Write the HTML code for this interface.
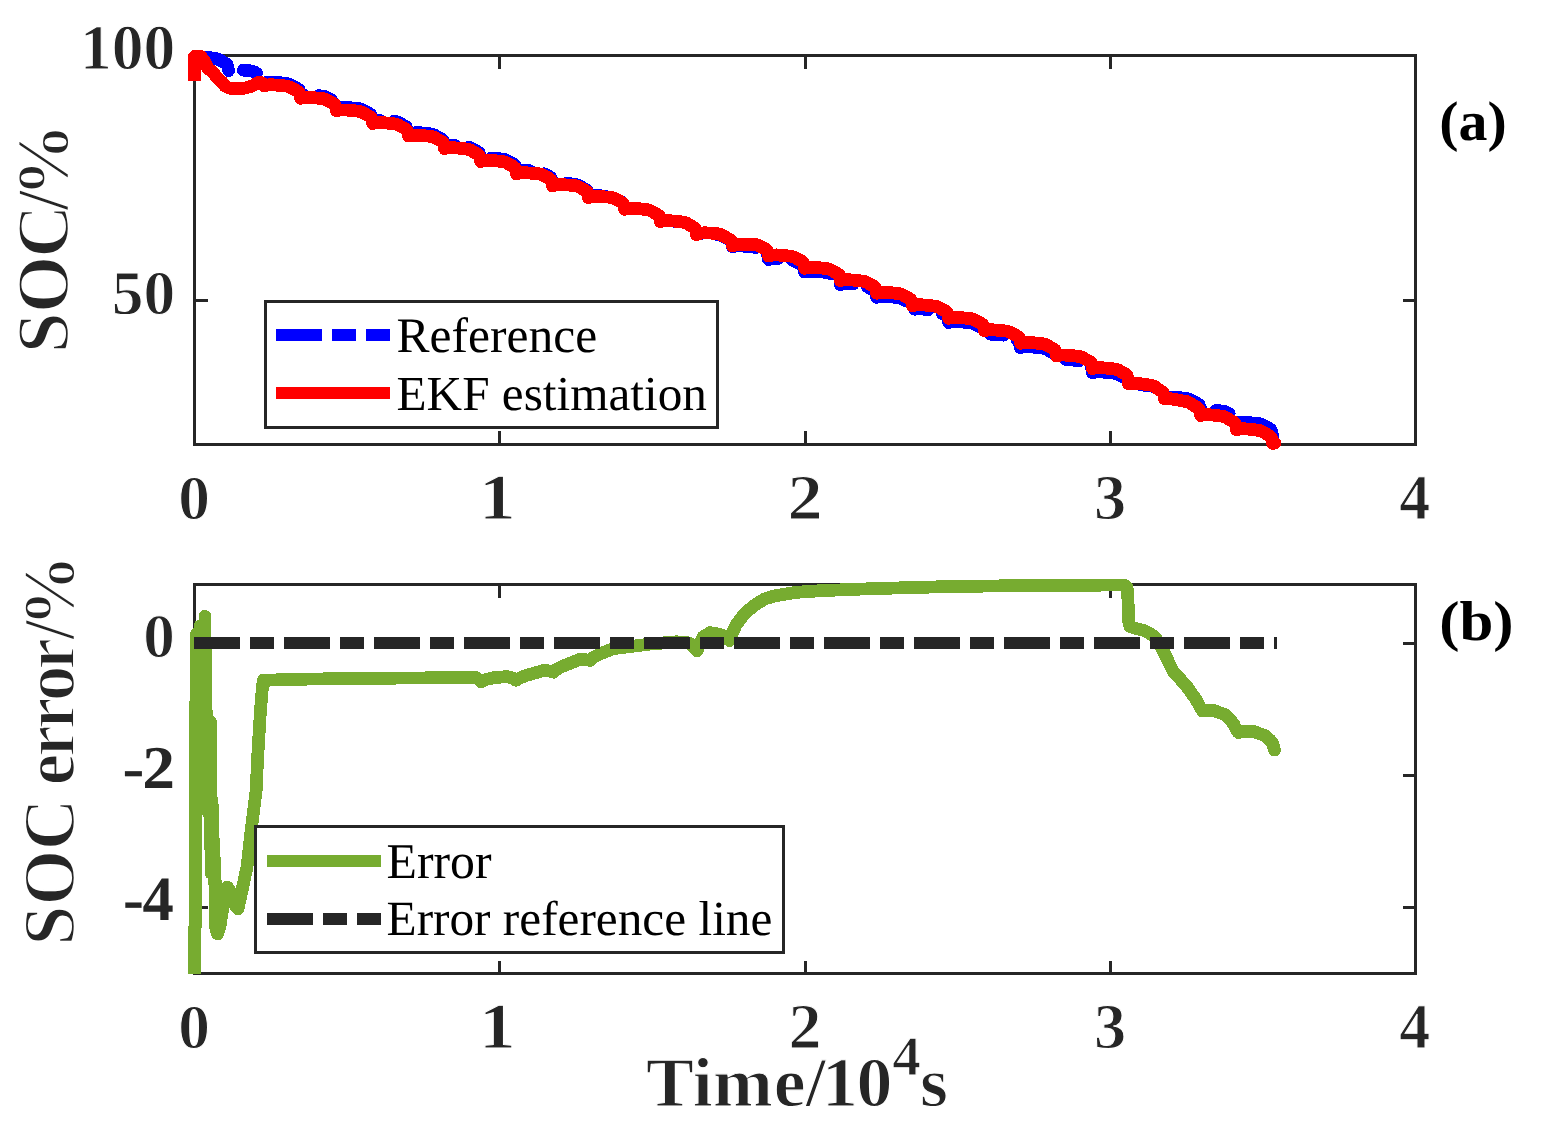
<!DOCTYPE html>
<html lang="en"><head><meta charset="utf-8"><title>SOC estimation</title>
<style>html,body{margin:0;padding:0;background:#fff}svg{display:block}</style></head>
<body><svg width="1541" height="1140" viewBox="0 0 1541 1140">
<rect width="1541" height="1140" fill="#fff"/>
<g stroke="#262626" stroke-width="3" fill="none" shape-rendering="crispEdges">
<rect x="194.5" y="55.5" width="1221.0" height="388.5"/>
<path d="M499.75,444.0 V431.0 M499.75,55.5 V68.5"/>
<path d="M805.0,444.0 V431.0 M805.0,55.5 V68.5"/>
<path d="M1110.25,444.0 V431.0 M1110.25,55.5 V68.5"/>
<path d="M194.5,300 H207.5 M1415.5,300 H1402.5"/>
</g>
<g fill="none" stroke-linejoin="round" shape-rendering="crispEdges">
<path d="M196.0,57.0 L197.5,56.9 L200.5,56.9 L207.5,57.5 L215.0,58.3 L218.5,59.4 L221.0,60.9 L225.0,63.0 L227.0,64.4 L227.9,66.9 L228.5,70.5 L231.0,69.8 L233.5,69.5 L236.5,69.5 L243.5,70.1 L251.0,70.9 L254.5,72.0 L257.0,73.5 L261.0,75.6 L263.0,77.0 L263.9,79.5 L264.5,83.1 L267.0,82.4 L269.5,82.1 L272.5,82.1 L279.5,82.7 L287.0,83.5 L290.5,84.6 L293.0,86.1 L297.0,88.2 L299.0,89.6 L299.9,92.1 L300.5,95.7 L303.0,95.0 L305.5,94.7 L308.5,94.7 L315.5,95.3 L323.0,96.1 L326.5,97.2 L329.0,98.7 L333.0,100.8 L335.0,102.2 L335.9,104.7 L336.5,108.3 L339.0,107.6 L341.5,107.3 L344.5,107.3 L351.5,107.9 L359.0,108.7 L362.5,109.8 L365.0,111.3 L369.0,113.4 L371.0,114.8 L371.9,117.3 L372.5,120.9 L375.0,120.2 L377.5,119.9 L380.5,119.9 L387.5,120.5 L395.0,121.3 L398.5,122.4 L401.0,123.9 L405.0,126.0 L407.0,127.4 L407.9,129.9 L408.5,133.5 L411.0,132.8 L413.5,132.5 L416.5,132.5 L423.5,133.1 L431.0,133.9 L434.5,135.0 L437.0,136.5 L441.0,138.6 L443.0,140.0 L443.9,142.5 L444.5,146.1 L447.0,145.4 L449.5,145.1 L452.5,145.1 L459.5,145.7 L467.0,146.5 L470.5,147.6 L473.0,149.1 L477.0,151.2 L479.0,152.6 L479.9,155.1 L480.5,158.7 L483.0,158.0 L485.5,157.7 L488.5,157.7 L495.5,158.3 L503.0,159.1 L506.5,160.2 L509.0,161.7 L513.0,163.8 L515.0,165.2 L515.9,167.7 L516.5,171.3 L519.0,170.6 L521.5,170.3 L524.5,170.3 L531.5,170.9 L539.0,171.7 L542.5,172.8 L545.0,174.3 L549.0,176.4 L551.0,177.8 L551.9,180.3 L552.5,183.9 L555.0,183.2 L557.5,182.9 L560.5,182.9 L567.5,183.5 L575.0,184.3 L578.5,185.4 L581.0,186.9 L585.0,189.0 L587.0,190.4 L587.9,192.9 L588.5,196.5 L591.0,195.8 L593.5,195.5 L596.5,195.5 L603.5,196.1 L611.0,196.9 L614.5,198.0 L617.0,199.5 L621.0,201.6 L623.0,203.0 L623.9,205.5 L624.5,209.1 L627.0,208.4 L629.5,208.1 L632.5,208.1 L639.5,208.7 L647.0,209.5 L650.5,210.6 L653.0,212.1 L657.0,214.2 L659.0,215.6 L659.9,218.1 L660.5,221.7 L663.0,221.0 L665.5,220.7 L668.5,220.7 L675.5,221.3 L683.0,222.1 L686.5,223.2 L689.0,224.7 L693.0,226.8 L695.0,228.2 L695.9,230.7 L696.5,234.3 L699.0,233.6 L701.5,233.3 L704.5,233.3 L711.5,233.9 L719.0,234.7 L722.5,235.8 L725.0,237.3 L729.0,239.4 L731.0,240.8 L731.9,243.3 L732.5,246.9 L735.0,246.2 L737.5,245.9 L740.5,245.9 L747.5,246.5 L755.0,247.3 L758.5,248.4 L761.0,249.9 L765.0,252.0 L767.0,253.4 L767.9,255.9 L768.5,259.5 L771.0,258.8 L773.5,258.5 L776.5,258.5 L783.5,259.1 L791.0,259.9 L794.5,261.0 L797.0,262.5 L801.0,264.6 L803.0,266.0 L803.9,268.5 L804.5,272.1 L807.0,271.4 L809.5,271.1 L812.5,271.1 L819.5,271.7 L827.0,272.5 L830.5,273.6 L833.0,275.1 L837.0,277.2 L839.0,278.6 L839.9,281.1 L840.5,284.7 L843.0,284.0 L845.5,283.7 L848.5,283.7 L855.5,284.3 L863.0,285.1 L866.5,286.2 L869.0,287.7 L873.0,289.8 L875.0,291.2 L875.9,293.7 L876.5,297.3 L879.0,296.6 L881.5,296.3 L884.5,296.3 L891.5,296.9 L899.0,297.7 L902.5,298.8 L905.0,300.3 L909.0,302.4 L911.0,303.8 L911.9,306.3 L912.5,309.9 L915.0,309.2 L917.5,308.9 L920.5,308.9 L927.5,309.5 L935.0,310.3 L938.5,311.4 L941.0,312.9 L945.0,315.0 L947.0,316.4 L947.9,318.9 L948.5,322.5 L951.0,321.8 L953.5,321.5 L956.5,321.5 L963.5,322.1 L971.0,322.9 L974.5,324.0 L977.0,325.5 L981.0,327.6 L983.0,329.0 L983.9,331.5 L984.5,335.1 L987.0,334.4 L989.5,334.1 L992.5,334.1 L999.5,334.7 L1007.0,335.5 L1010.5,336.6 L1013.0,338.1 L1017.0,340.2 L1019.0,341.6 L1019.9,344.1 L1020.5,347.7 L1023.0,347.0 L1025.5,346.7 L1028.5,346.7 L1035.5,347.3 L1043.0,348.1 L1046.5,349.2 L1049.0,350.7 L1053.0,352.8 L1055.0,354.2 L1055.9,356.7 L1056.5,360.3 L1059.0,359.6 L1061.5,359.3 L1064.5,359.3 L1071.5,359.9 L1079.0,360.7 L1082.5,361.8 L1085.0,363.3 L1089.0,365.4 L1091.0,366.8 L1091.9,369.3 L1092.5,372.9 L1095.0,372.2 L1097.5,371.9 L1100.5,371.9 L1107.5,372.5 L1115.0,373.3 L1118.5,374.4 L1121.0,375.9 L1125.0,378.0 L1127.0,379.4 L1127.9,381.9 L1128.5,385.5 L1131.0,384.8 L1133.5,384.5 L1136.5,384.5 L1143.5,385.1 L1151.0,385.9 L1154.5,387.0 L1157.0,388.5 L1161.0,390.6 L1163.0,392.0 L1163.9,394.5 L1164.5,398.1 L1167.0,397.4 L1169.5,397.1 L1172.5,397.1 L1179.5,397.7 L1187.0,398.5 L1190.5,399.6 L1193.0,401.1 L1197.0,403.2 L1199.0,404.6 L1199.9,407.1 L1200.5,410.7 L1203.0,410.0 L1205.5,409.7 L1208.5,409.7 L1215.5,410.3 L1223.0,411.1 L1226.5,412.2 L1229.0,413.7 L1233.0,415.8 L1235.0,417.2 L1235.9,419.7 L1236.5,423.3 L1239.0,422.6 L1241.5,422.3 L1244.5,422.3 L1251.5,422.9 L1259.0,423.7 L1262.5,424.8 L1265.0,426.3 L1269.0,428.4 L1271.0,429.8 L1271.9,432.3 L1272.5,435.9" stroke="#0000ff" stroke-width="12.8" stroke-linecap="round" stroke-dasharray="45.2 14.8 13.6 14.8" stroke-dashoffset="6.1"/>
<path d="M194.5,81.0 L194.5,56.5 L201.0,56.5 L204.5,61.5 L208.0,68.5 L213.0,72.4 L217.8,78.6 L222.5,82.5 L225.0,86.0 L228.0,87.5 L232.4,88.9 L241.0,88.6 L245.8,87.9 L252.6,85.8 L259.0,81.9 L262.3,83.0 L264.5,85.8 L267.0,85.1 L269.5,84.8 L272.5,84.8 L279.5,85.4 L287.0,86.2 L290.5,87.3 L293.0,88.8 L297.0,90.9 L299.0,92.2 L299.9,94.7 L300.5,98.3 L303.0,97.6 L305.5,97.3 L308.5,97.3 L315.5,97.9 L323.0,98.7 L326.5,99.8 L329.0,101.3 L333.0,103.4 L335.0,104.8 L335.9,107.3 L336.5,110.9 L339.0,110.2 L341.5,109.9 L344.5,109.9 L351.5,110.5 L359.0,111.3 L362.5,112.4 L365.0,113.9 L369.0,116.0 L371.0,117.4 L371.9,119.9 L372.5,123.5 L375.0,122.8 L377.5,122.5 L380.5,122.5 L387.5,123.1 L395.0,123.9 L398.5,125.0 L401.0,126.5 L405.0,128.6 L407.0,130.0 L407.9,132.5 L408.5,136.1 L411.0,135.4 L413.5,135.1 L416.5,135.1 L423.5,135.7 L431.0,136.4 L434.5,137.5 L437.0,139.0 L441.0,141.1 L443.0,142.5 L443.9,145.0 L444.5,148.6 L447.0,147.9 L449.5,147.6 L452.5,147.6 L459.5,148.2 L467.0,149.0 L470.5,150.1 L473.0,151.6 L477.0,153.8 L479.0,155.3 L479.9,157.8 L480.5,161.5 L483.0,160.7 L485.5,160.4 L488.5,160.3 L495.5,160.8 L503.0,161.6 L506.5,162.7 L509.0,164.2 L513.0,166.4 L515.0,167.9 L515.9,170.4 L516.5,174.0 L519.0,173.2 L521.5,172.8 L524.5,172.7 L531.5,173.2 L539.0,173.8 L542.5,174.8 L545.0,176.3 L549.0,178.4 L551.0,179.9 L551.9,182.4 L552.5,186.0 L555.0,185.2 L557.5,184.8 L560.5,184.7 L567.5,185.0 L575.0,185.6 L578.5,186.6 L581.0,188.1 L585.0,190.2 L587.0,191.6 L587.9,194.1 L588.5,197.7 L591.0,197.0 L593.5,196.5 L596.5,196.4 L603.5,196.8 L611.0,197.3 L614.5,198.4 L617.0,199.8 L621.0,201.9 L623.0,203.3 L623.9,205.8 L624.5,209.4 L627.0,208.7 L629.5,208.3 L632.5,208.3 L639.5,208.8 L647.0,209.6 L650.5,210.6 L653.0,212.1 L657.0,214.2 L659.0,215.6 L659.9,218.1 L660.5,221.7 L663.0,221.0 L665.5,220.6 L668.5,220.6 L675.5,221.2 L683.0,222.0 L686.5,223.1 L689.0,224.7 L693.0,227.0 L695.0,228.6 L695.9,231.1 L696.5,234.8 L699.0,233.8 L701.5,233.1 L704.5,232.8 L711.5,233.1 L719.0,234.0 L722.5,235.2 L725.0,236.8 L729.0,239.1 L731.0,240.3 L731.9,242.6 L732.5,246.1 L735.0,245.0 L737.5,244.4 L740.5,244.1 L747.5,244.1 L755.0,244.4 L758.5,245.4 L761.0,246.8 L765.0,248.7 L767.0,250.0 L767.9,252.5 L768.5,256.1 L771.0,255.4 L773.5,255.0 L776.5,254.9 L783.5,255.5 L791.0,256.2 L794.5,257.2 L797.0,258.7 L801.0,260.8 L803.0,262.2 L803.9,264.7 L804.5,268.3 L807.0,267.6 L809.5,267.2 L812.5,267.2 L819.5,267.8 L827.0,268.6 L830.5,269.7 L833.0,271.1 L837.0,273.2 L839.0,274.6 L839.9,277.1 L840.5,280.7 L843.0,280.0 L845.5,279.7 L848.5,279.7 L855.5,280.3 L863.0,281.1 L866.5,282.2 L869.0,283.6 L873.0,285.7 L875.0,287.1 L875.9,289.6 L876.5,293.2 L879.0,292.5 L881.5,292.2 L884.5,292.2 L891.5,292.8 L899.0,293.6 L902.5,294.7 L905.0,296.2 L909.0,298.3 L911.0,299.7 L911.9,302.2 L912.5,305.8 L915.0,305.0 L917.5,304.7 L920.5,304.7 L927.5,305.3 L935.0,306.1 L938.5,307.2 L941.0,308.7 L945.0,310.8 L947.0,312.2 L947.9,314.7 L948.5,318.3 L951.0,317.6 L953.5,317.3 L956.5,317.3 L963.5,317.9 L971.0,318.7 L974.5,319.8 L977.0,321.3 L981.0,323.3 L983.0,324.7 L983.9,327.2 L984.5,330.8 L987.0,330.1 L989.5,329.8 L992.5,329.8 L999.5,330.4 L1007.0,331.2 L1010.5,332.3 L1013.0,333.8 L1017.0,335.9 L1019.0,337.3 L1019.9,339.8 L1020.5,343.4 L1023.0,342.7 L1025.5,342.4 L1028.5,342.4 L1035.5,343.0 L1043.0,343.8 L1046.5,344.9 L1049.0,346.4 L1053.0,348.5 L1055.0,349.9 L1055.9,352.4 L1056.5,356.0 L1059.0,355.3 L1061.5,355.0 L1064.5,355.0 L1071.5,355.6 L1079.0,356.4 L1082.5,357.5 L1085.0,359.0 L1089.0,361.1 L1091.0,362.5 L1091.9,365.0 L1092.5,368.6 L1095.0,367.9 L1097.5,367.6 L1100.5,367.6 L1107.5,368.2 L1115.0,369.0 L1118.5,370.1 L1121.0,371.6 L1125.0,373.7 L1127.0,375.2 L1127.9,378.6 L1128.5,383.8 L1131.0,383.6 L1133.5,383.3 L1136.5,383.4 L1143.5,384.1 L1151.0,385.2 L1154.5,386.5 L1157.0,388.2 L1161.0,390.9 L1163.0,392.5 L1163.9,395.2 L1164.5,398.9 L1167.0,398.5 L1169.5,398.6 L1172.5,399.1 L1179.5,400.3 L1187.0,401.7 L1190.5,403.2 L1193.0,404.9 L1197.0,407.5 L1199.0,409.2 L1199.9,411.8 L1200.5,415.5 L1203.0,415.0 L1205.5,414.7 L1208.5,414.7 L1215.5,415.3 L1223.0,416.3 L1226.5,417.6 L1229.0,419.3 L1233.0,421.7 L1235.0,423.4 L1235.9,426.0 L1236.5,429.7 L1239.0,429.2 L1241.5,428.8 L1244.5,428.8 L1251.5,429.4 L1259.0,430.4 L1262.5,431.6 L1265.0,433.1 L1269.0,435.5 L1271.0,437.0 L1271.9,439.6 L1272.5,443.3 L1274.8,443.1" stroke="#ff0000" stroke-width="12.8" stroke-linecap="butt"/>
<circle cx="1274.8" cy="443.1" r="6.4" fill="#ff0000" stroke="none"/>
</g>
<rect x="265.5" y="301.5" width="452.0" height="126.0" fill="#fff" stroke="#262626" stroke-width="3" shape-rendering="crispEdges"/>
<rect x="276" y="329" width="46" height="12" fill="#0000ff" shape-rendering="crispEdges"/>
<rect x="332" y="329" width="24" height="12" fill="#0000ff" shape-rendering="crispEdges"/>
<rect x="366" y="329" width="24" height="12" fill="#0000ff" shape-rendering="crispEdges"/>
<rect x="276" y="387" width="114" height="12" fill="#ff0000" shape-rendering="crispEdges"/>
<g stroke="#262626" stroke-width="3" fill="none" shape-rendering="crispEdges">
<rect x="194.5" y="584.5" width="1221.0" height="389.0"/>
<path d="M499.75,973.5 V960.5 M499.75,584.5 V597.5"/>
<path d="M805.0,973.5 V960.5 M805.0,584.5 V597.5"/>
<path d="M1110.25,973.5 V960.5 M1110.25,584.5 V597.5"/>
<path d="M194.5,643.5 H207.5 M1415.5,643.5 H1402.5"/>
<path d="M194.5,775.5 H207.5 M1415.5,775.5 H1402.5"/>
<path d="M194.5,907.5 H207.5 M1415.5,907.5 H1402.5"/>
</g>
<g fill="none" stroke-linejoin="round" shape-rendering="crispEdges">
<path d="M194.8,973.5 L194.8,927.0 L195.7,925.0 L195.7,703.0 L196.6,701.0 L196.6,634.0 L200.1,632.0 L200.1,625.7 L201.5,650.0 L204.9,650.0 L204.9,616.4 L205.2,660.0 L206.3,720.0 L207.8,812.0 L210.4,722.0 L211.0,873.0 L212.0,800.0 L214.4,882.0 L214.8,860.0 L215.9,929.0 L217.7,934.0 L220.0,926.0 L224.0,900.0 L227.4,887.0 L231.0,893.0 L234.5,904.0 L237.9,909.0 L242.3,889.0 L247.0,867.0 L251.0,832.0 L256.2,790.0 L257.6,758.0 L260.5,710.0 L262.5,686.0 L263.4,680.3 L300.0,679.2 L370.0,678.3 L440.0,677.8 L476.0,677.6 L479.0,679.5 L481.0,681.8 L484.0,680.0 L494.0,677.6 L507.0,676.6 L513.0,678.0 L516.0,680.2 L520.0,678.0 L525.0,675.8 L543.3,670.6 L550.0,671.0 L553.7,672.2 L557.0,669.0 L561.5,666.7 L579.7,659.5 L586.0,659.8 L590.0,660.4 L594.0,657.0 L600.4,653.7 L613.4,648.6 L634.2,646.0 L650.0,644.1 L676.3,641.8 L689.3,643.0 L694.0,647.0 L697.0,650.8 L699.0,646.0 L703.0,637.0 L710.0,632.7 L718.0,634.0 L725.7,636.6 L729.5,640.5 L732.0,634.0 L736.0,625.0 L743.8,614.5 L754.2,605.4 L764.6,599.0 L775.0,595.8 L795.7,592.4 L821.7,590.6 L873.6,588.6 L951.5,586.5 L1040.0,585.4 L1124.0,585.0 L1127.0,587.0 L1128.0,600.0 L1128.5,620.0 L1130.0,626.5 L1136.0,628.5 L1144.0,630.5 L1150.0,633.5 L1155.7,638.0 L1160.0,645.0 L1165.5,655.7 L1173.0,671.0 L1187.0,686.8 L1196.6,700.4 L1200.0,707.0 L1202.5,711.0 L1207.0,710.4 L1214.0,710.6 L1225.8,715.0 L1233.6,723.8 L1236.0,729.0 L1238.5,732.6 L1243.0,731.2 L1253.0,731.2 L1264.7,735.5 L1270.0,740.0 L1272.5,743.3 L1274.5,750.0" stroke="#77ac30" stroke-width="12.8" stroke-linecap="butt"/>
<circle cx="1274.5" cy="750.0" r="6.4" fill="#77ac30" stroke="none"/>
<path d="M194,643 H1277.0" stroke="#262626" stroke-width="12" stroke-dasharray="46 10.2 23.5 10.3"/>
</g>
<rect x="255.5" y="826.5" width="528.0" height="126.0" fill="#fff" stroke="#262626" stroke-width="3" shape-rendering="crispEdges"/>
<rect x="267" y="855" width="114" height="12" fill="#77ac30" shape-rendering="crispEdges"/>
<rect x="267" y="913" width="46" height="12" fill="#262626" shape-rendering="crispEdges"/>
<rect x="323" y="913" width="24" height="12" fill="#262626" shape-rendering="crispEdges"/>
<rect x="357" y="913" width="24" height="12" fill="#262626" shape-rendering="crispEdges"/>
<g font-family="'Liberation Serif', serif" font-size="100" text-rendering="geometricPrecision">
<text transform="matrix(0.6344,0,0,0.6412,80.09,69.00)" font-weight="bold" fill="#262626" stroke="#fff" stroke-width="1.639">100</text>
<text transform="matrix(0.6343,0,0,0.6260,111.83,313.80)" font-weight="bold" fill="#262626" stroke="#fff" stroke-width="1.639">50</text>
<text transform="matrix(0.6341,0,0,0.6260,178.15,519.00)" font-weight="bold" fill="#262626" stroke="#fff" stroke-width="1.639">0</text>
<text transform="matrix(0.7343,0,0,0.6469,478.99,519.05)" font-weight="bold" fill="#262626" stroke="#fff" stroke-width="1.639">1</text>
<text transform="matrix(0.7025,0,0,0.6422,787.39,519.04)" font-weight="bold" fill="#262626" stroke="#fff" stroke-width="1.639">2</text>
<text transform="matrix(0.6439,0,0,0.6415,1094.10,519.00)" font-weight="bold" fill="#262626" stroke="#fff" stroke-width="1.639">3</text>
<text transform="matrix(0.6198,0,0,0.6422,1399.26,519.04)" font-weight="bold" fill="#262626" stroke="#fff" stroke-width="1.639">4</text>
<text transform="matrix(0.6341,0,0,0.6260,178.15,1048.00)" font-weight="bold" fill="#262626" stroke="#fff" stroke-width="1.639">0</text>
<text transform="matrix(0.7343,0,0,0.6469,478.99,1048.05)" font-weight="bold" fill="#262626" stroke="#fff" stroke-width="1.639">1</text>
<text transform="matrix(0.6600,0,0,0.6422,788.40,1048.04)" font-weight="bold" fill="#262626" stroke="#fff" stroke-width="1.639">2</text>
<text transform="matrix(0.6439,0,0,0.6415,1094.10,1048.00)" font-weight="bold" fill="#262626" stroke="#fff" stroke-width="1.639">3</text>
<text transform="matrix(0.6198,0,0,0.6422,1399.26,1048.04)" font-weight="bold" fill="#262626" stroke="#fff" stroke-width="1.639">4</text>
<text transform="matrix(0.6317,0,0,0.6214,143.16,656.70)" font-weight="bold" fill="#262626" stroke="#fff" stroke-width="1.639">0</text>
<text transform="matrix(0.6548,0,0,0.6061,124.20,787.90)" x="-2.68 27.71" y="0" font-weight="bold" fill="#262626" stroke="#fff" stroke-width="0.016">-2</text>
<text transform="matrix(0.6262,0,0,0.6305,124.20,920.40)" x="-2.05 29.15" y="0" font-weight="bold" fill="#262626" stroke="#fff" stroke-width="0.016">-4</text>
<text transform="matrix(0.5795,0,0,0.5578,1439.29,140.39)" font-weight="bold" fill="#000">(a)</text>
<text transform="matrix(0.6088,0,0,0.5611,1439.16,640.12)" font-weight="bold" fill="#000">(b)</text>
<text transform="matrix(0.4952,0,0,0.4969,396.51,352.30)" font-weight="normal" fill="#000">Reference</text>
<text transform="matrix(0.4923,0,0,0.4885,396.52,410.00)" font-weight="normal" fill="#000">EKF estimation</text>
<text transform="matrix(0.4976,0,0,0.4992,386.51,877.70)" font-weight="normal" fill="#000">Error</text>
<text transform="matrix(0.4929,0,0,0.4916,386.52,935.30)" font-weight="normal" fill="#000">Error reference line</text>
<text transform="matrix(0.7179,0,0,0.7016,649.70,1105.95)" x="-5.02 59.92 88.30 172.67 217.50 240.17 288.05" y="0" font-weight="bold" fill="#262626" stroke="#fff" stroke-width="1.639">Time/10<tspan x="337.84" y="-44.31" font-size="80">4</tspan><tspan x="376.67" y="0" font-size="100">s</tspan></text>
<text transform="matrix(0,-0.7352,0.7453,0,67.77,349.20)" x="-5.67 49.32 124.24 188.51 207.01" y="0" font-weight="bold" fill="#262626" stroke="#fff" stroke-width="2.623">SOC/%</text>
<text transform="matrix(0,-0.7159,0.7391,0,73.67,941.80)" x="-5.20 50.72 127.96 192.49 218.42 257.99 296.95 336.02 380.10 421.91 440.49" y="0" font-weight="bold" fill="#262626" stroke="#fff" stroke-width="2.623">SOC error/%</text>
</g>
</svg></body></html>
